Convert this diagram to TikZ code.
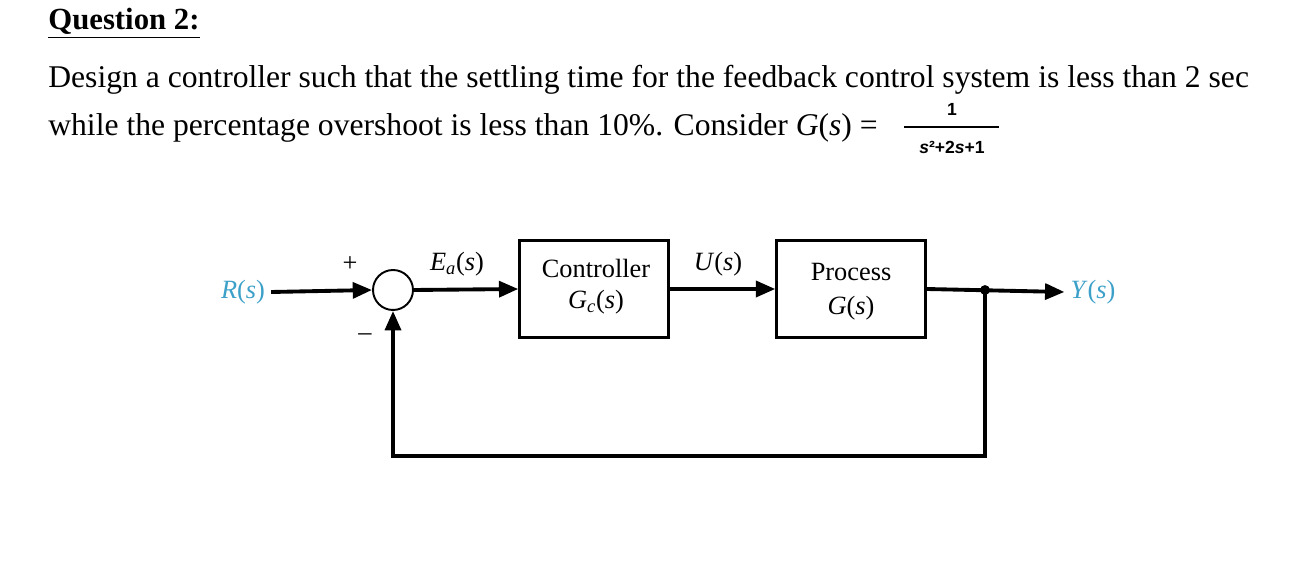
\documentclass[tikz,border=0pt]{standalone}
\usepackage{fontspec}
\setmainfont{Liberation Serif}
\newfontfamily\sansf{Liberation Sans}
\usetikzlibrary{arrows.meta}
\definecolor{lblue}{RGB}{60,160,200}
\begin{document}
\begin{tikzpicture}[x=0.02cm,y=-0.02cm,
  sig/.style={line width=2.2pt,-{Triangle[length=11pt,width=9pt]}},
  blk/.style={draw,line width=1.4pt,minimum width=2.98cm,minimum height=1.94cm,inner sep=0pt},
  lbl/.style={font=\fontsize{15}{17}\selectfont}]
\useasboundingbox (0,0) rectangle (1314,570);
\node[anchor=base west,inner sep=0pt,font=\fontsize{17.5}{20}\selectfont\bfseries] (title) at (48,30) {\underline{Question 2:}};
\node[anchor=base west,inner sep=0pt,font=\fontsize{18}{20}\selectfont] (l1) at (48,88) {Design a controller such that the settling time for the feedback control system is less than 2 sec};
\node[anchor=base west,inner sep=0pt,font=\fontsize{18}{20}\selectfont] (l2) at (48,136) {while the percentage overshoot is less than 10\%. Consider \textit{G}(\textit{s}) =};
\node[inner sep=0pt,font=\sansf\fontsize{10}{11}\selectfont\bfseries] (num) at (952,109) {1};
\draw[line width=0.8pt] (904,127) -- (999,127);
\node[inner sep=0pt,font=\sansf\fontsize{10}{11}\selectfont\bfseries] (den) at (952,147) {\textit{s}²+2\textit{s}+1};
\node[draw,circle,line width=1.1pt,minimum size=0.8cm,inner sep=0pt] (sum) at (393,290) {};
\node[lbl,text=lblue] (R) at (243,292) {\textit{R}(\textit{s})};
\node[lbl] (plus) at (350,264) {+};
\node[lbl] (minus) at (365,337) {\textendash};
\node[blk] (ctl) at (594,289) {};
\node[lbl] (ct1) at (596,268) {Controller};
\node[lbl] (ct2) at (596,302) {\textit{G\textsubscript{c}}(\textit{s})};
\node[blk] (proc) at (851,289) {};
\node[lbl] (pr1) at (851,272) {Process};
\node[lbl] (pr2) at (851,308) {\textit{G}(\textit{s})};
\node[lbl] (Ea) at (457,264) {\textit{E\textsubscript{a}}(\textit{s})};
\node[lbl] (U) at (718,264) {\textit{U}(\textit{s})};
\node[lbl,text=lblue] (Y) at (1093,292) {\textit{Y}(\textit{s})};
\coordinate (br) at (985,290);
\coordinate (bl) at (393,456);
\draw[sig] (R.east) -- (sum.west);
\draw[sig] (sum.east) -- (ctl.west);
\draw[sig] (ctl.east) -- (proc.west);
\draw[sig] (proc.east) -- (Y.west);
\fill (br) circle (2.8pt);
\draw[sig] (br) |- (bl) -- (sum.south);
\end{tikzpicture}
\end{document}
